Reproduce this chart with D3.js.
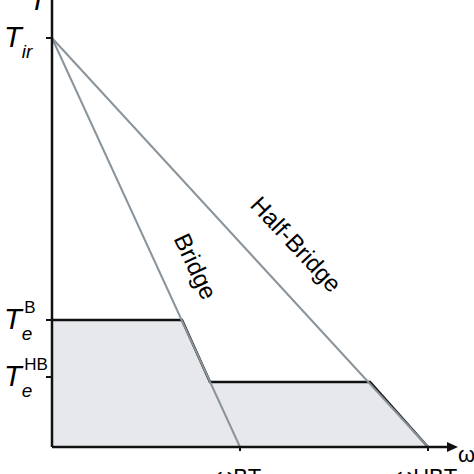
<!DOCTYPE html>
<html><head><meta charset="utf-8">
<script src="https://cdn.jsdelivr.net/npm/d3@7"></script>
<style>body{margin:0;background:#fff}text{font-family:Arial,"Liberation Sans",sans-serif}</style>
</head><body><div id="container"></div>
<script>
// values in chart units (speed, torque)
const T_ir = 409;
const Te_B = 127;
const Te_HB = 70;
const omega_BT = 188;
const omega_HBT = 376;
const envelope = [[0, 127], [130, 127], [158, 65], [318, 65], [376, 0], [0, 0]];

const width = 474, height = 474;
const x = d3.scaleLinear().domain([0, 406]).range([52, 458]);
const y = d3.scaleLinear().domain([0, 409]).range([447, 38]);

const svg = d3.select('#container').append('svg')
    .attr('width', width).attr('height', height);

// shaded operating region
svg.append('path')
    .attr('d', 'M' + envelope.map(d => [x(d[0]), y(d[1])]).join('L') + 'Z')
    .style('fill', '#e6e8ec').style('stroke', 'none');
svg.append('path')
    .attr('d', 'M' + envelope.slice(0, 5).map(d => [x(d[0]), y(d[1])]).join('L'))
    .style('fill', 'none').style('stroke', '#111').style('stroke-width', 2.5);

// grey limit lines
[omega_BT, omega_HBT].forEach(w => {
  svg.append('line')
      .attr('x1', x(0)).attr('y1', y(T_ir)).attr('x2', x(w)).attr('y2', y(0))
      .style('stroke', '#8a949a').style('stroke-width', 2);
});

// axes
svg.append('line').attr('x1', x(0)).attr('y1', 0).attr('x2', x(0)).attr('y2', y(0))
    .style('stroke', '#111').style('stroke-width', 2.5);
svg.append('line').attr('x1', x(0)).attr('y1', y(0)).attr('x2', x(400)).attr('y2', y(0))
    .style('stroke', '#111').style('stroke-width', 2.5);
svg.append('path').attr('d', `M${x(406)},${y(0)}L${x(395)},${y(0)-5}L${x(395)},${y(0)+5}Z`).style('fill', '#111');

// ticks
[T_ir, Te_B, Te_HB].forEach(v => {
  svg.append('line').attr('x1', x(0) - 6).attr('x2', x(0)).attr('y1', y(v)).attr('y2', y(v))
      .style('stroke', '#111').style('stroke-width', 2);
});
[omega_BT, omega_HBT].forEach(v => {
  svg.append('line').attr('x1', x(v)).attr('x2', x(v)).attr('y1', y(0)).attr('y2', y(0) + 4)
      .style('stroke', '#111').style('stroke-width', 2);
});

function tLabel(v, sub, sup) {
  const t = svg.append('text').attr('x', 4).attr('y', y(v) + 9).style('font-size', '29px');
  t.append('tspan').text('T').style('font-style', 'italic');
  t.append('tspan').attr('dy', 11).style('font-size', '19px').style('font-style', 'italic').text(sub);
  if (sup) t.append('tspan').attr('dy', -27).attr('dx', -8).style('font-size', '17px').text(sup);
}
tLabel(T_ir, 'ir');
tLabel(Te_B, 'e', 'B');
tLabel(Te_HB, 'e', 'HB');
svg.append('text').attr('x', 29).attr('y', 10).style('font-size', '29px').style('font-style', 'italic').text('T');

// bottom labels (cropped at the edge, as in the reference)
svg.append('text').attr('x', x(omega_BT) - 24).attr('y', 484).style('font-size', '22px').text('ωBT');
svg.append('text').attr('x', x(omega_HBT) - 32).attr('y', 484).style('font-size', '22px').text('ωHBT');
svg.append('text').attr('x', 458).attr('y', 462).style('font-size', '22px').text('ω');

// line labels
svg.append('text').attr('transform', 'translate(188,270) rotate(65)').attr('text-anchor', 'middle')
    .style('font-size', '24px').text('Bridge');
svg.append('text').attr('transform', 'translate(290,250) rotate(47)').attr('text-anchor', 'middle')
    .style('font-size', '24px').text('Half-Bridge');
</script></body></html>
